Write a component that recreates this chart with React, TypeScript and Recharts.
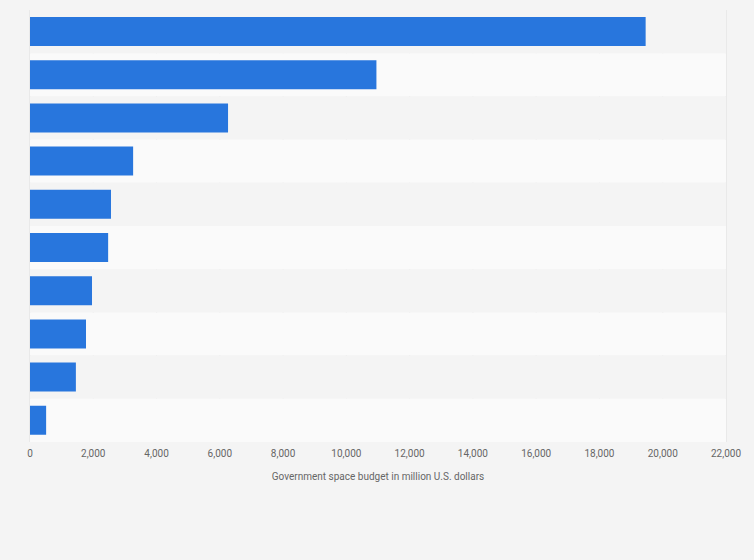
import { BarChart, Bar, XAxis, YAxis, CartesianGrid, ReferenceArea } from "recharts";

const countries = ["United States", "China", "Europe (ESA)", "Russia", "Japan", "France", "India", "Germany", "Italy", "United Kingdom"];
const budgets = [19460, 10950, 6260, 3260, 2560, 2470, 1960, 1770, 1450, 510];
const xTicks = [0, 2000, 4000, 6000, 8000, 10000, 12000, 14000, 16000, 18000, 20000, 22000];

const data = countries.map((name, i) => ({ name, value: budgets[i] }));

export default function App() {
  return (
    <div style={{ position: "absolute", left: 0, top: 0, width: 754, height: 560, background: "#f4f4f4" }}>
      <BarChart
        width={754}
        height={560}
        data={data}
        layout="vertical"
        margin={{ top: 10, right: 28, left: 30, bottom: 78 }}
        barCategoryGap={7}
      >
        {countries.map((c, i) => (
          <ReferenceArea key={c} y1={c} y2={c} fill={i % 2 === 0 ? "#f4f4f4" : "#fafafa"} fillOpacity={1} stroke="none" ifOverflow="visible" />
        ))}
        <CartesianGrid horizontal={false} stroke="#dedede" />
        <XAxis
          type="number"
          domain={[0, 22000]}
          ticks={xTicks}
          height={40}
          tickFormatter={(v: number) => v.toLocaleString("en-US")}
          tick={{ fontSize: 10, fill: "#666", fontFamily: "Roboto" }}
          axisLine={false}
          tickLine={false}
          label={{ value: "Government space budget in million U.S. dollars", position: "insideBottom", offset: 2, fontSize: 10, fill: "#666", fontFamily: "Roboto" }}
        />
        <YAxis type="category" dataKey="name" width={0} tick={false} tickLine={false} axisLine={{ stroke: "#333" }} />
        <Bar dataKey="value" fill="#2876dd" isAnimationActive={false} />
      </BarChart>
    </div>
  );
}
